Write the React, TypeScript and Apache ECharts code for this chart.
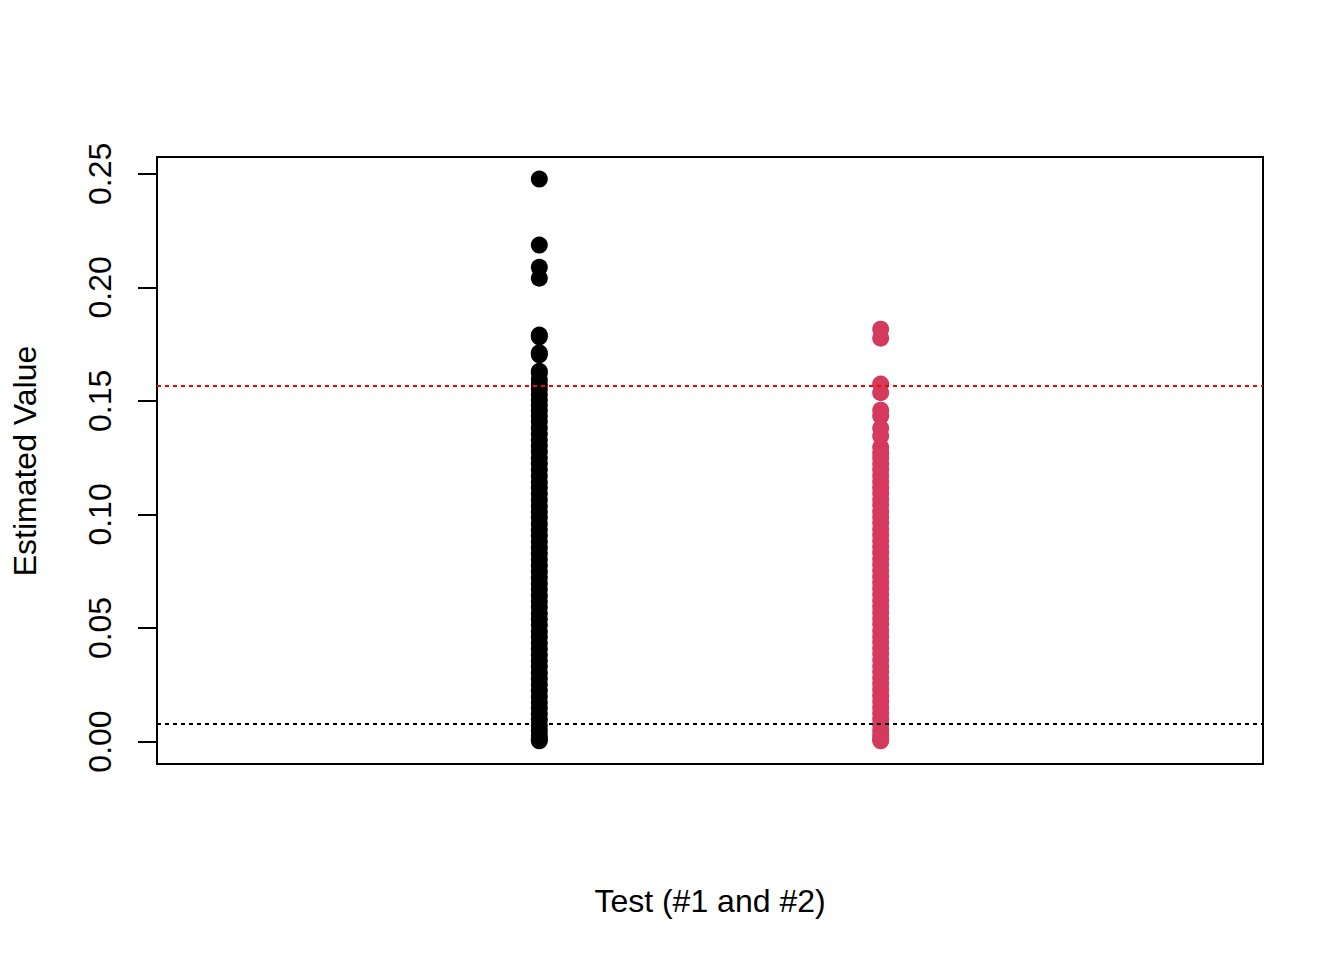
import React, { useEffect, useRef } from "react";
import * as echarts from "echarts";

// Tick labels on the y axis
const yTicks = [0, 0.05, 0.1, 0.15, 0.2, 0.25];

// Group positions on the x axis
const groupX = [1, 2];

// Test #1 estimated values (black)
const test1Values = [
  0.2477, 0.2186, 0.2088, 0.204, 0.179, 0.1782, 0.1712, 0.1703, 0.163, 0.1622,
  0.1594, 0.1572, 0.1551, 0.1528, 0.1503, 0.1481, 0.1457, 0.1432, 0.1409, 0.1381,
  0.1354, 0.1327, 0.1301, 0.1276, 0.1248, 0.1223, 0.1196, 0.1168, 0.1142, 0.1117,
  0.109, 0.1064, 0.1037, 0.1011, 0.0985, 0.0958, 0.0931, 0.0906, 0.0879, 0.0853,
  0.0827, 0.0801, 0.0774, 0.0748, 0.0721, 0.0696, 0.0669, 0.0642, 0.0617, 0.0591,
  0.0564, 0.0538, 0.0512, 0.0485, 0.046, 0.0433, 0.0407, 0.0381, 0.0355, 0.0329,
  0.0302, 0.0276, 0.0251, 0.0224, 0.0198, 0.0172, 0.0146, 0.0121, 0.0096, 0.0071,
  0.0048, 0.0027, 0.0011, 0.0003,
];

// Test #2 estimated values (red)
const test2Values = [
  0.1816, 0.1776, 0.1574, 0.1536, 0.1459, 0.1433, 0.1379, 0.1345, 0.1296, 0.1271,
  0.1248, 0.1222, 0.1197, 0.1171, 0.1144, 0.1118, 0.1093, 0.1066, 0.104, 0.1013,
  0.0988, 0.0962, 0.0935, 0.0909, 0.0883, 0.0857, 0.0831, 0.0804, 0.0778, 0.0752,
  0.0726, 0.0699, 0.0673, 0.0647, 0.0621, 0.0594, 0.0568, 0.0542, 0.0516, 0.0489,
  0.0463, 0.0437, 0.0411, 0.0385, 0.0358, 0.0332, 0.0306, 0.028, 0.0254, 0.0228,
  0.0202, 0.0176, 0.015, 0.0124, 0.0099, 0.0074, 0.005, 0.0029, 0.0012, 0.0003,
];

// Reference lines
const upperLine = 0.1565;
const lowerLine = 0.0079;

const FONT = "'Liberation Sans', Arial, Helvetica, sans-serif";

export default function App() {
  const ref = useRef<HTMLDivElement>(null);

  useEffect(() => {
    if (!ref.current) return;
    const chart = echarts.init(ref.current, undefined, { renderer: "svg" });
    chart.setOption({
      animation: false,
      backgroundColor: "#ffffff",
      grid: {
        left: 157,
        top: 157,
        width: 1106,
        height: 607,
        show: true,
        borderColor: "#000000",
        borderWidth: 2,
        backgroundColor: "transparent",
      },
      xAxis: {
        type: "value",
        min: -0.12,
        max: 3.12,
        show: false,
        splitLine: { show: false },
      },
      yAxis: {
        type: "value",
        min: -0.0099,
        max: 0.2574,
        axisLine: { show: false, onZero: false },
        splitLine: { show: false },
        axisTick: {
          show: true,
          length: 19,
          customValues: yTicks,
          lineStyle: { color: "#000000", width: 2 },
        },
        axisLabel: {
          customValues: yTicks,
          formatter: (v: number) => v.toFixed(2),
          rotate: 90,
          margin: 41,
          fontSize: 32,
          fontFamily: FONT,
          color: "#000000",
        },
      },
      graphic: [
        {
          type: "text",
          x: 710,
          y: 901,
          style: {
            text: "Test (#1 and #2)",
            fontSize: 32,
            fontFamily: FONT,
            fill: "#000000",
            textAlign: "center",
            textVerticalAlign: "middle",
          },
        },
        {
          type: "text",
          x: 25,
          y: 461,
          rotation: Math.PI / 2,
          style: {
            text: "Estimated Value",
            fontSize: 32,
            fontFamily: FONT,
            fill: "#000000",
            textAlign: "center",
            textVerticalAlign: "middle",
          },
        },
      ],
      series: [
        {
          type: "scatter",
          symbol: "circle",
          symbolSize: 17,
          data: test1Values.map((v) => [groupX[0], v]),
          itemStyle: { color: "#000000", opacity: 1 },
          markLine: {
            silent: true,
            symbol: "none",
            precision: 6,
            label: { show: false },
            lineStyle: { color: "#000000", type: [4, 4], width: 2 },
            data: [{ yAxis: lowerLine }],
          },
        },
        {
          type: "scatter",
          symbol: "circle",
          symbolSize: 17,
          data: test2Values.map((v) => [groupX[1], v]),
          itemStyle: { color: "#D5395B", opacity: 1 },
          markLine: {
            silent: true,
            symbol: "none",
            precision: 6,
            label: { show: false },
            lineStyle: { color: "#FF0000", type: [4, 4], width: 2 },
            data: [{ yAxis: upperLine }],
          },
        },
      ],
    });
    return () => chart.dispose();
  }, []);

  return (
    <div
      ref={ref}
      style={{ position: "absolute", left: 0, top: 0, width: 1344, height: 960 }}
    />
  );
}
